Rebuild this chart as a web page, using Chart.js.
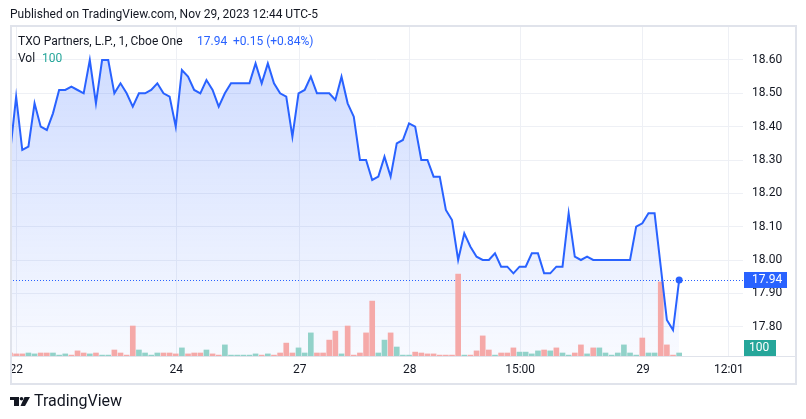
<!DOCTYPE html>
<html>
<head>
<meta charset="utf-8">
<script src="https://cdn.jsdelivr.net/npm/chart.js@4.4.0/dist/chart.umd.min.js"></script>
<style>
  html, body { margin: 0; padding: 0; background: #fff; }
  #wrap { position: relative; width: 806px; height: 419px; }
</style>
</head>
<body>
<div id="wrap"><canvas id="c" width="806" height="419"></canvas></div>
<script>
// 1-minute closes, Nov 22 -> Nov 29
const prices = [
  18.32, 18.49, 18.33, 18.34, 18.47, 18.40, 18.39, 18.44, 18.51, 18.51,
  18.52, 18.51, 18.50, 18.60, 18.47, 18.60, 18.60, 18.50, 18.53, 18.50,
  18.46, 18.50, 18.50, 18.51, 18.53, 18.50, 18.49, 18.40, 18.57, 18.55,
  18.51, 18.50, 18.54, 18.51, 18.46, 18.50, 18.53, 18.53, 18.53, 18.53,
  18.59, 18.53, 18.59, 18.53, 18.50, 18.49, 18.37, 18.50, 18.51, 18.55,
  18.50, 18.50, 18.50, 18.48, 18.55, 18.47, 18.43, 18.30, 18.30, 18.24,
  18.25, 18.31, 18.25, 18.35, 18.36, 18.41, 18.40, 18.30, 18.30, 18.25,
  18.25, 18.15, 18.12, 18.00, 18.08, 18.04, 18.01, 18.00, 18.00, 18.02,
  17.98, 17.98, 17.96, 17.98, 17.98, 18.02, 18.02, 17.96, 17.96, 17.98,
  17.98, 18.14, 18.01, 18.00, 18.01, 18.00, 18.00, 18.00, 18.00, 18.00,
  18.00, 18.00, 18.10, 18.11, 18.14, 18.14, 17.98, 17.82, 17.79, 17.94
];

const volumes = [
  100, 70, 70, 100, 70, 100, 100, 100, 30, 70,
  30, 170, 100, 70, 100, 30, 30, 200, 100, 30,
  1000, 200, 100, 30, 100, 100, 100, 70, 270, 70,
  100, 100, 200, 70, 30, 370, 30, 30, 30, 30,
  70, 30, 70, 30, 100, 430, 100, 270, 100, 770,
  100, 100, 530, 830, 70, 1000, 30, 100, 770, 1830,
  100, 530, 770, 300, 30, 30, 130, 100, 70, 70,
  30, 30, 30, 2730, 30, 30, 170, 670, 200, 30,
  100, 100, 270, 130, 130, 70, 170, 200, 170, 270,
  100, 30, 100, 370, 70, 270, 270, 100, 30, 100,
  370, 100, 30, 600, 100, 100, 2470, 370, 30, 100
];

// 1 = up bar (teal), 0 = down bar (red)
const volUp = [
  0, 0, 0, 1, 1, 0, 0, 1, 1, 1,
  0, 0, 0, 1, 0, 1, 1, 0, 0, 0,
  0, 1, 1, 1, 1, 0, 0, 0, 1, 0,
  0, 0, 1, 0, 0, 1, 1, 1, 1, 1,
  1, 0, 1, 0, 0, 0, 0, 1, 1, 1,
  0, 0, 0, 0, 1, 0, 0, 0, 0, 0,
  1, 1, 0, 1, 1, 1, 0, 0, 0, 0,
  0, 0, 0, 0, 1, 0, 0, 0, 0, 1,
  0, 0, 0, 1, 1, 1, 1, 0, 1, 0,
  1, 1, 0, 0, 1, 0, 1, 1, 1, 1,
  1, 1, 1, 0, 1, 1, 0, 0, 0, 1
];

const priceTicks = [17.80, 17.90, 18.00, 18.10, 18.20, 18.30, 18.40, 18.50, 18.60];
const timeLabels = ['22', '24', '27', '28', '15:00', '29', '12:01'];
const timeTickIdx = [1, 27.1, 47.2, 65.1, 83.1, 103.1, 117.1];

const lastPrice = 17.94;
const lastVol = 100;

const BLUE = '#2962ff';
const FONT = 'Roboto, "Liberation Sans", sans-serif';

const decor = {
  id: 'decor',
  beforeDatasetsDraw(chart) {
    const { ctx, chartArea: a, scales } = chart;
    const y = Math.round(scales.y.getPixelForValue(lastPrice)) + 0.5;
    ctx.save();
    ctx.strokeStyle = BLUE;
    ctx.lineWidth = 1;
    ctx.setLineDash([1, 2]);
    ctx.beginPath();
    ctx.moveTo(a.left, y);
    ctx.lineTo(a.right, y);
    ctx.stroke();
    ctx.restore();
  },
  afterDraw(chart) {
    const { ctx, chartArea: a, scales } = chart;
    ctx.save();
    // axis line along the bottom
    ctx.fillStyle = '#e0e3eb';
    ctx.fillRect(a.left, a.bottom, 796 - a.left, 1);
    // frame
    ctx.strokeStyle = '#e0e3eb';
    ctx.lineWidth = 2;
    ctx.strokeRect(11, 26, 785, 358);

    // header
    ctx.textBaseline = 'middle';
    ctx.textAlign = 'left';
    ctx.fillStyle = '#131722';
    ctx.font = '12px ' + FONT;
    ctx.fillText('Published on TradingView.com, Nov 29, 2023 12:44 UTC-5', 10, 15);

    ctx.font = '12px ' + FONT;
    ctx.fillStyle = '#131722';
    ctx.fillText('TXO Partners, L.P., 1, Cboe One', 18, 42);
    ctx.fillStyle = BLUE;
    ctx.fillText('17.94', 197, 42);
    ctx.fillText('+0.15 (+0.84%)', 233, 42);
    ctx.fillStyle = '#131722';
    ctx.fillText('Vol', 18, 59);
    ctx.fillStyle = '#26a69a';
    ctx.fillText(String(lastVol), 42, 59);

    // last price label
    const py = scales.y.getPixelForValue(lastPrice);
    ctx.fillStyle = BLUE;
    ctx.fillRect(744, py - 8, 43, 16);
    ctx.fillStyle = '#fff';
    ctx.font = '12px ' + FONT;
    ctx.fillText(lastPrice.toFixed(2), 752, py);

    // volume label
    ctx.fillStyle = '#26a69a';
    ctx.fillRect(744, a.bottom - 16, 32, 16);
    ctx.fillStyle = '#fff';
    ctx.fillText(String(lastVol), 749, a.bottom - 8);

    // logo
    ctx.fillStyle = '#131722';
    ctx.fillRect(10, 397, 9, 3);
    ctx.fillRect(14, 397, 5, 9);
    ctx.beginPath();
    ctx.arc(21.5, 398.8, 1.8, 0, Math.PI * 2);
    ctx.fill();
    ctx.beginPath();
    ctx.moveTo(24.5, 397);
    ctx.lineTo(30, 397);
    ctx.lineTo(25, 406);
    ctx.lineTo(20.5, 406);
    ctx.closePath();
    ctx.fill();
    ctx.font = '16px ' + FONT;
    ctx.fillText('TradingView', 34, 402);
    ctx.restore();
  }
};

const ctx = document.getElementById('c').getContext('2d');

new Chart(ctx, {
  data: {
    datasets: [
      {
        type: 'line',
        label: 'Price',
        yAxisID: 'y',
        order: 0,
        data: prices.map((p, i) => ({ x: i, y: p })),
        borderColor: BLUE,
        borderWidth: 2,
        tension: 0,
        pointRadius: prices.map((p, i) => (i === prices.length - 1 ? 3.5 : 0)),
        pointBackgroundColor: BLUE,
        pointBorderWidth: 0,
        fill: 'start',
        backgroundColor: (c) => {
          const a = c.chart.chartArea;
          if (!a) return 'rgba(41,98,255,0.15)';
          const g = c.chart.ctx.createLinearGradient(0, a.top, 0, a.bottom);
          g.addColorStop(0, 'rgba(41,98,255,0.24)');
          g.addColorStop(1, 'rgba(41,98,255,0.03)');
          return g;
        }
      },
      {
        type: 'bar',
        label: 'Vol',
        yAxisID: 'v',
        order: 1,
        data: volumes.map((v, i) => ({ x: i, y: v })),
        backgroundColor: volUp.map(u => (u ? '#92d2c9' : '#f5a9a8')),
        barThickness: 5
      }
    ]
  },
  options: {
    responsive: false,
    animation: false,
    events: [],
    layout: { padding: { left: 10, top: 27, right: 0, bottom: 0 } },
    plugins: {
      legend: { display: false },
      tooltip: { enabled: false },
      filler: { drawTime: 'beforeDatasetsDraw' }
    },
    scales: {
      x: {
        type: 'linear',
        offset: false,
        min: 0,
        max: 119.4,
        afterBuildTicks: (s) => { s.ticks = timeTickIdx.map(v => ({ value: v })); },
        afterFit: (s) => { s.height = 63; },
        ticks: {
          autoSkip: false,
          maxRotation: 0,
          padding: 7,
          color: '#131722',
          font: { size: 12, family: FONT },
          callback: (v, i) => timeLabels[i]
        },
        grid: { color: '#eef0f5', drawTicks: false, offset: false },
        border: { display: false }
      },
      y: {
        position: 'right',
        min: 17.712,
        max: 18.699,
        afterBuildTicks: (s) => { s.ticks = priceTicks.map(v => ({ value: v })); },
        afterFit: (s) => { s.width = 63; },
        ticks: {
          padding: 9,
          color: '#131722',
          font: { size: 12, family: FONT },
          callback: (v) => Number(v).toFixed(2)
        },
        grid: { color: '#eef0f5', drawTicks: false },
        border: { display: false }
      },
      v: {
        display: false,
        min: 0,
        max: 10967
      }
    }
  },
  plugins: [decor]
});
</script>
</body>
</html>
